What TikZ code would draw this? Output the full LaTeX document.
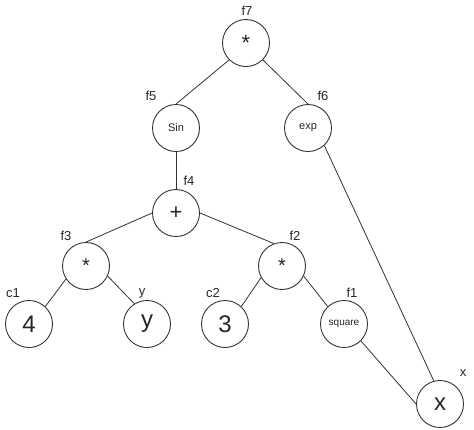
\documentclass[tikz,border=0pt]{standalone}
\usepackage{fontspec}
\setmainfont{Liberation Sans}
\begin{document}
\begin{tikzpicture}[x=1pt,y=-1pt,
  op/.style={circle,draw=black!80,line width=0.9pt,minimum size=47pt,inner sep=0pt,text=black!85},
  lab/.style={inner sep=0pt,text=black!85,font=\fontsize{13}{13}\selectfont},
  edge/.style={draw=black!80,line width=0.8pt}]
\useasboundingbox (0,0) rectangle (474,429);
% nodes
\node[op,font=\fontsize{22}{22}\selectfont] (f7) at (246,43) {*};
\node[op,font=\fontsize{11}{11}\selectfont] (f5) at (176,128) {Sin};
\node[op,font=\fontsize{11}{11}\selectfont] (f6) at (308,128) {exp};
\node[op,font=\fontsize{22}{22}\selectfont] (f4) at (176,213) {+};
\node[op,font=\fontsize{20}{20}\selectfont] (f3) at (86,266) {*};
\node[op,font=\fontsize{20}{20}\selectfont] (f2) at (282,266) {*};
\node[op,font=\fontsize{24}{24}\selectfont] (c1) at (29,324) {4};
\node[op,font=\fontsize{24}{24}\selectfont] (y) at (147,324) {y};
\node[op,font=\fontsize{24}{24}\selectfont] (c2) at (225,324) {3};
\node[op,font=\fontsize{10}{10}\selectfont] (f1) at (344,324) {square};
\node[op,font=\fontsize{24}{24}\selectfont] (x) at (440,404) {x};
% labels
\node[lab] (lf7) at (247,11) {f7};
\node[lab] (lf5) at (151,96) {f5};
\node[lab] (lf6) at (323,96) {f6};
\node[lab] (lf4) at (189,181) {f4};
\node[lab] (lf3) at (66,236) {f3};
\node[lab] (lf2) at (295,236) {f2};
\node[lab] (lc1) at (13,293) {c1};
\node[lab] (ly) at (142,293) {y};
\node[lab] (lc2) at (213,293) {c2};
\node[lab] (lf1) at (352,293) {f1};
\node[lab] (lx) at (463,373) {x};
% edges
\draw[edge] (f7.225) -- (f5.north);
\draw[edge] (f7.-45) -- (f6.north);
\draw[edge] (f5.south) -- (f4.north);
\draw[edge] (f6.-47) -- (x.105);
\draw[edge] (f4.west) -- (f3.north);
\draw[edge] (f4.east) -- (f2.110);
\draw[edge] (f3.213) -- (c1.47);
\draw[edge] (f3.-25) -- (y.122);
\draw[edge] (f2.209) -- (c2.47);
\draw[edge] (f2.-25) -- (f1.133);
\draw[edge] (f1.-45) -- (x.west);
\end{tikzpicture}
\end{document}
